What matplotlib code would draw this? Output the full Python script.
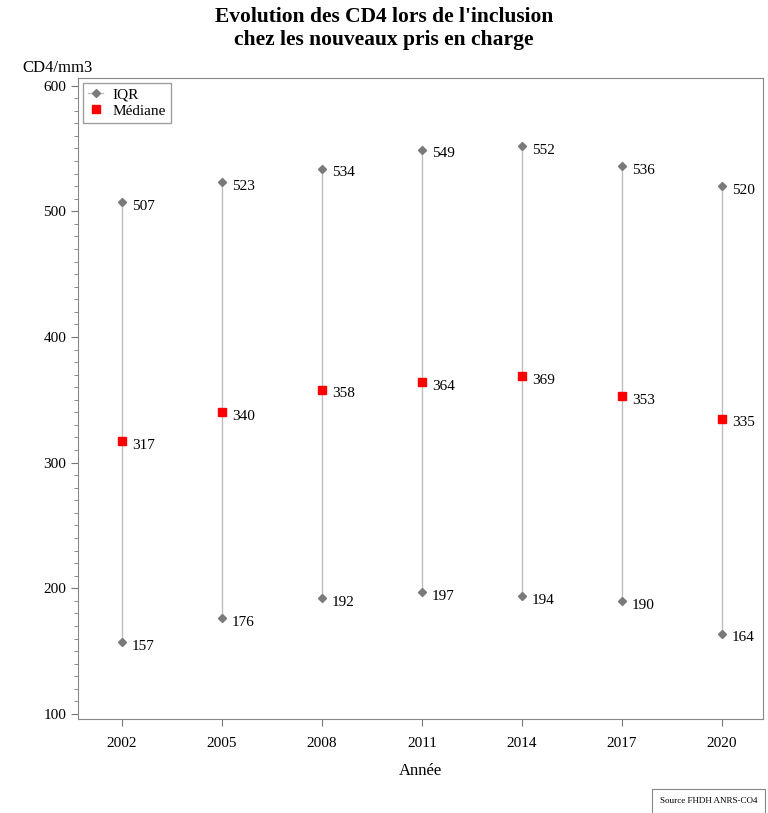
import numpy as np
import matplotlib.pyplot as plt

plt.rcParams['font.family'] = ['Liberation Serif', 'DejaVu Serif']

# Data
years = ['2002', '2005', '2008', '2011', '2014', '2017', '2020']
q1 = [157, 176, 192, 197, 194, 190, 164]
q3 = [507, 523, 534, 549, 552, 536, 520]
median = [317, 340, 358, 364, 369, 353, 335]

x = np.arange(len(years))

fig = plt.figure(figsize=(7.68, 8.13), dpi=100)
ax = fig.add_axes([0.1016, 0.1156, 0.8919, 0.7884])

# IQR vertical lines
ax.vlines(x, q1, q3, color='#bdbdbd', lw=1, zorder=1)
ax.plot(x, q1, ls='none', marker='D', ms=4, color='#7a7a7a', zorder=2)
ax.plot(x, q3, ls='none', marker='D', ms=4, color='#7a7a7a', zorder=2)
ax.plot(x, median, ls='none', marker='s', ms=6.2, color='#ff0000', zorder=3)

# legend handles
h_iqr, = ax.plot([], [], color='#bdbdbd', lw=1, marker='D', ms=4,
                 mfc='#7a7a7a', mec='#7a7a7a')
h_med, = ax.plot([], [], ls='none', marker='s', ms=6.2, color='#ff0000')
leg = ax.legend([h_iqr, h_med], ['IQR', 'Médiane'], loc='upper left',
                fontsize=11, frameon=True, fancybox=False, borderpad=0.35,
                handlelength=1.0, handletextpad=0.6, labelspacing=0.15,
                borderaxespad=0.3)
leg.get_frame().set_edgecolor('#888888')
leg.get_frame().set_linewidth(1)

# data labels
for xi, v in zip(x, q1):
    ax.annotate(str(v), (xi, v), xytext=(7, -3), textcoords='offset points',
                ha='left', va='center', fontsize=11)
for xi, v in zip(x, q3):
    ax.annotate(str(v), (xi, v), xytext=(7, -3), textcoords='offset points',
                ha='left', va='center', fontsize=11)
for xi, v in zip(x, median):
    ax.annotate(str(v), (xi, v), xytext=(7, -3), textcoords='offset points',
                ha='left', va='center', fontsize=11)

ax.set_xlim(-0.44, 6.41)
ax.set_ylim(96, 606)
ax.set_xticks(x)
ax.set_xticklabels(years, fontsize=11)
ax.set_yticks(np.arange(100, 601, 100))
ax.set_yticks(np.arange(100, 601, 10), minor=True)
ax.tick_params(axis='y', labelsize=11, color='#777777', length=5)
ax.tick_params(axis='y', which='minor', color='#777777', length=3)
ax.tick_params(axis='x', labelsize=11, color='#777777', length=5, pad=8)
for s in ax.spines.values():
    s.set_color('#888888')

ax.set_xlabel('Année', fontsize=12, labelpad=9)
fig.text(0.029, 0.916, 'CD4/mm3', fontsize=12, ha='left', va='center')

fig.suptitle("Evolution des CD4 lors de l'inclusion\nchez les nouveaux pris en charge",
             x=0.5, y=0.992, fontsize=15.5, fontweight='bold', linespacing=1.2)

fig.text(0.9225, 0.0148, 'Source FHDH ANRS-CO4', fontsize=6.5, ha='center', va='center',
         bbox=dict(boxstyle='square,pad=0.9', fc='white', ec='#888888', lw=0.8))

fig.savefig('out.png', dpi=100)
